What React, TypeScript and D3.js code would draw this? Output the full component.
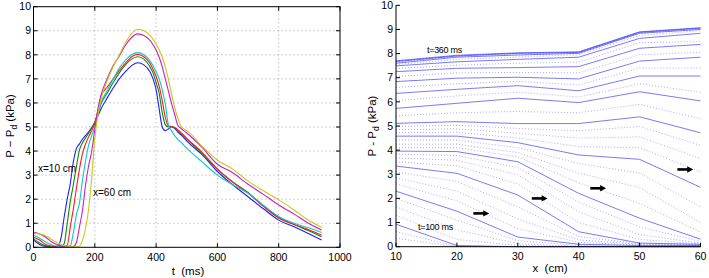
import React from "react";
import * as d3 from "d3";

// ---------- Left panel data ----------
const times = [0,20,40,60,80,90,100,110,120,130,140,150,160,170,180,190,200,210,220,240,260,280,300,320,340,360,380,390,400,410,420,430,440,450,460,470,480,490,500,550,600,650,700,750,800,850,900,940];

const x10 = [0.30,0.12,0.04,0.02,0.05,0.40,1.25,2.00,2.65,3.55,4.10,4.30,4.50,4.65,4.80,4.98,5.20,5.45,5.75,6.20,6.62,7.00,7.30,7.55,7.67,7.58,7.30,7.00,6.55,5.75,5.00,4.85,4.92,5.00,4.95,4.80,4.68,4.56,4.42,3.85,3.15,2.60,2.10,1.60,1.13,0.85,0.55,0.30];
const x20 = [0.35,0.18,0.06,0.02,0.02,0.03,0.15,1.00,1.90,2.60,3.35,4.05,4.35,4.55,4.75,4.95,5.20,5.55,5.95,6.40,6.85,7.25,7.58,7.82,7.92,7.82,7.50,7.25,6.85,6.40,5.60,5.10,5.00,5.02,4.98,4.85,4.72,4.62,4.50,3.90,3.25,2.72,2.28,1.72,1.25,0.95,0.68,0.44];
const x30 = [0.42,0.30,0.12,0.05,0.02,0.02,0.03,0.08,0.85,1.60,2.45,3.25,3.90,4.30,4.60,4.85,5.15,5.70,6.30,6.65,7.00,7.35,7.65,7.92,8.02,7.92,7.65,7.40,7.10,6.70,6.10,5.40,5.05,5.02,4.98,4.90,4.78,4.66,4.53,3.95,3.25,2.70,2.25,1.70,1.22,0.95,0.72,0.51];
const x40 = [0.50,0.38,0.22,0.10,0.04,0.02,0.02,0.03,0.06,0.60,1.35,1.85,2.80,3.60,4.25,4.65,5.00,5.50,6.00,6.50,7.00,7.45,7.78,8.00,8.09,8.00,7.75,7.55,7.30,7.00,6.55,5.95,5.10,4.85,4.65,4.50,4.38,4.25,4.12,3.55,3.00,2.60,2.25,1.75,1.28,1.00,0.80,0.61];
const x50 = [0.62,0.55,0.42,0.22,0.10,0.06,0.04,0.03,0.02,0.03,0.20,0.85,1.55,2.60,3.40,4.00,4.90,5.70,6.30,7.00,7.55,7.95,8.40,8.72,8.87,8.80,8.60,8.42,8.20,7.90,7.50,7.00,6.50,6.00,5.55,5.10,4.95,4.85,4.75,4.15,3.45,3.10,2.62,2.20,1.76,1.38,0.98,0.72];
const x60 = [0.58,0.55,0.48,0.32,0.18,0.12,0.07,0.05,0.03,0.02,0.02,0.06,0.30,0.80,1.60,2.90,4.50,5.50,6.15,6.90,7.50,8.00,8.50,8.88,9.06,9.00,8.80,8.65,8.45,8.20,7.90,7.50,7.00,6.40,5.85,5.40,5.05,4.92,4.85,4.20,3.62,3.25,2.75,2.35,1.97,1.55,1.10,0.83];

const leftSeries = [x10, x20, x30, x40, x50, x60];
const leftColors = ["#1f1fff", "#0a8a0a", "#ff1a1a", "#10c8c8", "#c81fc8", "#c8c818"];
const leftXTicks = [0, 200, 400, 600, 800, 1000];
const leftYTicks = [0,1,2,3,4,5,6,7,8,9,10];

// ---------- Right panel data ----------
const positions = [10, 20, 30, 40, 50, 60];
const rightXTicks = [10, 20, 30, 40, 50, 60];
const rightYTicks = [0,1,2,3,4,5,6,7,8,9,10];

// solid profiles (every 20 ms, t = 100 ... 360)
const p100 = [0.93, 0.05, 0.00, 0.00, 0.00, 0.00];
const p120 = [2.30, 1.47, 0.40, 0.10, 0.05, 0.05];
const p140 = [3.34, 3.04, 2.14, 0.62, 0.15, 0.10];
const p160 = [3.96, 3.94, 3.52, 2.21, 1.18, 0.31];
const p180 = [4.58, 4.58, 4.31, 3.80, 3.62, 2.46];
const p200 = [5.11, 5.18, 5.10, 5.10, 5.38, 4.72];
const p220 = [5.73, 5.94, 6.15, 5.97, 6.42, 6.04];
const p240 = [6.35, 6.52, 6.67, 6.46, 7.07, 7.07];
const p260 = [6.84, 6.98, 7.02, 6.95, 7.69, 7.85];
const p280 = [7.25, 7.39, 7.42, 7.46, 8.22, 8.38];
const p300 = [7.49, 7.66, 7.76, 7.85, 8.63, 8.84];
const p320 = [7.60, 7.85, 7.94, 8.01, 8.84, 9.00];
const p340 = [7.67, 7.90, 8.01, 8.05, 8.88, 9.05];
const p360 = [7.70, 7.93, 8.03, 8.07, 8.90, 9.07];
const solidProfiles = [p100,p120,p140,p160,p180,p200,p220,p240,p260,p280,p300,p320,p340,p360];

// dotted intermediate profiles
const q090 = [0.35, 0.00, 0.00, 0.00, 0.00, 0.00];
const q095 = [0.62, 0.01, 0.00, 0.00, 0.00, 0.00];
const q105 = [1.30, 0.30, 0.05, 0.00, 0.00, 0.00];
const q110 = [1.65, 0.70, 0.12, 0.02, 0.00, 0.00];
const q115 = [2.00, 1.10, 0.25, 0.05, 0.02, 0.02];
const q125 = [2.60, 1.90, 0.75, 0.18, 0.07, 0.05];
const q130 = [2.85, 2.30, 1.15, 0.28, 0.10, 0.06];
const q135 = [3.10, 2.70, 1.65, 0.42, 0.12, 0.08];
const q145 = [3.52, 3.35, 2.60, 1.00, 0.30, 0.12];
const q150 = [3.68, 3.58, 2.98, 1.45, 0.50, 0.15];
const q155 = [3.83, 3.78, 3.28, 1.85, 0.82, 0.22];
const q165 = [4.10, 4.10, 3.72, 2.65, 1.80, 0.60];
const q170 = [4.25, 4.25, 3.90, 3.05, 2.45, 1.00];
const q175 = [4.42, 4.42, 4.10, 3.45, 3.05, 1.65];
const q185 = [4.72, 4.74, 4.50, 4.15, 4.10, 3.10];
const q190 = [4.85, 4.88, 4.70, 4.50, 4.55, 3.65];
const q195 = [4.98, 5.03, 4.90, 4.80, 4.98, 4.20];
const q210 = [5.42, 5.55, 5.60, 5.55, 5.90, 5.30];
const q230 = [6.05, 6.25, 6.40, 6.20, 6.75, 6.40];
const q250 = [6.60, 6.75, 6.85, 6.70, 7.40, 7.40];
const q270 = [7.05, 7.20, 7.22, 7.20, 7.95, 8.05];
const q290 = [7.38, 7.52, 7.60, 7.65, 8.45, 8.50];
const q310 = [7.55, 7.76, 7.86, 7.95, 8.75, 8.95];
const q330 = [7.64, 7.88, 7.98, 8.03, 8.86, 9.03];
const q350 = [7.69, 7.92, 8.02, 8.06, 8.89, 9.06];
const dottedProfiles = [q090,q095,q105,q110,q115,q125,q130,q135,q145,q150,q155,q165,q170,q175,q185,q190,q195,q210,q230,q250,q270,q290,q310,q330,q350];

// direction arrows (x from, x to, level)
const arrowX0 = [22.7, 32.3, 41.9, 56.2];
const arrowX1 = [25.3, 34.9, 44.5, 58.8];
const arrowY = [1.38, 2.0, 2.42, 3.2];

const FONT = "'Liberation Sans', Arial, Helvetica, sans-serif";

export default function App() {
  const xL = d3.scaleLinear().domain([0, 1000]).range([33.5, 340]);
  const yL = d3.scaleLinear().domain([0, 10]).range([247.3, 6.7]);
  const xR = d3.scaleLinear().domain([10, 60]).range([396, 700.5]);
  const yR = d3.scaleLinear().domain([0, 10]).range([246.7, 5.3]);

  const lineL = d3
    .line<number>()
    .x((_, i) => xL(times[i]))
    .y((d) => yL(d))
    .curve(d3.curveMonotoneX);

  const lineR = d3
    .line<number>()
    .x((_, i) => xR(positions[i]))
    .y((d) => yR(d));

  const [l0, l1] = xL.range();
  const [b0, t0] = yL.range();
  const [r0, r1] = xR.range();
  const [rb, rt] = yR.range();

  return (
    <svg
      width={709}
      height={278}
      viewBox="0 0 709 278"
      style={{ position: "absolute", left: 0, top: 0, background: "#fff" }}
      fontFamily={FONT}
    >
      <rect x={0} y={0} width={709} height={278} fill="#fff" />

      {/* ======== LEFT PANEL ======== */}
      {leftXTicks.slice(1, -1).map((t) => (
        <line key={"gx" + t} x1={xL(t)} x2={xL(t)} y1={b0} y2={t0} stroke="#888" strokeWidth={0.8} strokeDasharray="1 3" />
      ))}
      {leftYTicks.slice(1, -1).map((v) => (
        <line key={"gy" + v} x1={l0} x2={l1} y1={yL(v)} y2={yL(v)} stroke="#888" strokeWidth={0.8} strokeDasharray="1 3" />
      ))}
      {leftSeries.map((s, i) => (
        <path key={"c" + i} d={lineL(s) || ""} fill="none" stroke={leftColors[i]} strokeWidth={1.1} />
      ))}
      <rect x={l0} y={t0} width={l1 - l0} height={b0 - t0} fill="none" stroke="#000" strokeWidth={1} />
      {leftXTicks.map((t) => (
        <g key={"tx" + t}>
          <line x1={xL(t)} x2={xL(t)} y1={b0} y2={b0 - 4} stroke="#000" />
          <line x1={xL(t)} x2={xL(t)} y1={t0} y2={t0 + 4} stroke="#000" />
          <text x={xL(t)} y={261} fontSize={10.5} textAnchor="middle">{t}</text>
        </g>
      ))}
      {leftYTicks.map((v) => (
        <g key={"ty" + v}>
          <line x1={l0} x2={l0 + 4} y1={yL(v)} y2={yL(v)} stroke="#000" />
          <line x1={l1} x2={l1 - 4} y1={yL(v)} y2={yL(v)} stroke="#000" />
          <text x={31} y={yL(v) + 3.7} fontSize={10.5} textAnchor="end">{v}</text>
        </g>
      ))}
      <text x={188} y={275} fontSize={11.5} textAnchor="middle" xmlSpace="preserve">t  (ms)</text>
      <text transform="translate(14,126) rotate(-90)" fontSize={11.5} textAnchor="middle" xmlSpace="preserve">
        P − P<tspan fontSize={8.5} dy={3}>d</tspan><tspan dy={-3}> (kPa)</tspan>
      </text>
      <text x={38} y={172} fontSize={10}>x=10 cm</text>
      <text x={93} y={196} fontSize={10}>x=60 cm</text>

      {/* ======== RIGHT PANEL ======== */}
      {dottedProfiles.map((p, i) => (
        <path key={"dp" + i} d={lineR(p) || ""} fill="none" stroke="#8c8cff" strokeWidth={1} strokeDasharray="1 2" opacity={0.75} />
      ))}
      {solidProfiles.map((p, i) => (
        <path key={"sp" + i} d={lineR(p) || ""} fill="none" stroke="#4646ee" strokeWidth={0.9} opacity={0.8} />
      ))}
      {arrowY.map((v, i) => {
        const xa = xR(arrowX0[i]);
        const xb = xR(arrowX1[i]);
        const yy = yR(v);
        return (
          <g key={"ar" + i}>
            <line x1={xa} x2={xb - 5} y1={yy} y2={yy} stroke="#000" strokeWidth={2.6} />
            <polygon points={`${xb - 6},${yy - 3.2} ${xb},${yy} ${xb - 6},${yy + 3.2}`} fill="#000" />
          </g>
        );
      })}
      <line x1={r0} x2={r0} y1={rb} y2={rt} stroke="#000" strokeWidth={1} />
      <line x1={r0} x2={r1} y1={rb} y2={rb} stroke="#000" strokeWidth={1} />
      {rightXTicks.map((t) => (
        <g key={"rx" + t}>
          <line x1={xR(t)} x2={xR(t)} y1={rb} y2={rb - 4} stroke="#000" />
          <text x={xR(t)} y={260} fontSize={10.5} textAnchor="middle">{t}</text>
        </g>
      ))}
      {rightYTicks.map((v) => (
        <g key={"ry" + v}>
          <line x1={r0} x2={r0 + 4} y1={yR(v)} y2={yR(v)} stroke="#000" />
          <text x={393} y={yR(v) + 3.7} fontSize={10.5} textAnchor="end">{v}</text>
        </g>
      ))}
      <text x={550} y={272} fontSize={11.5} textAnchor="middle" xmlSpace="preserve">x  (cm)</text>
      <text transform="translate(376,126) rotate(-90)" fontSize={11.5} textAnchor="middle" xmlSpace="preserve">
        P - P<tspan fontSize={8.5} dy={3}>d</tspan><tspan dy={-3}> (kPa)</tspan>
      </text>
      <text x={427} y={53} fontSize={9} letterSpacing={-0.3}>t=360 ms</text>
      <text x={418} y={230} fontSize={9} letterSpacing={-0.3}>t=100 ms</text>
    </svg>
  );
}
